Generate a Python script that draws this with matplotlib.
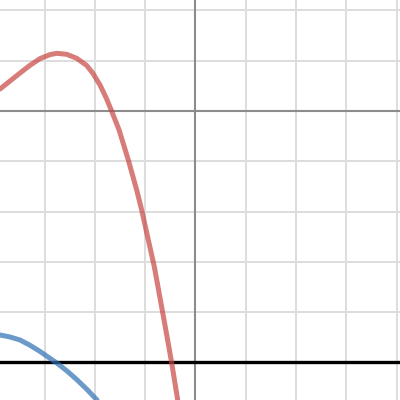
import matplotlib
matplotlib.use("Agg")
import matplotlib.pyplot as plt

# values, in grid units (one grid square = 1)
red_x = [-3.887, -3.688, -3.489, -3.290, -3.091, -2.893, -2.759, -2.561,
         -2.362, -2.163, -2.038, -1.899, -1.779, -1.680, -1.519, -1.336,
         -1.169, -1.070, -0.938, -0.819, -0.652, -0.561, -0.473, -0.354]
red_y = [0.437, 0.596, 0.755, 0.909, 1.042, 1.121, 1.147, 1.127,
         1.048, 0.905, 0.746, 0.517, 0.268, 0.030, -0.378, -0.974,
         -1.571, -1.968, -2.565, -3.095, -4.010, -4.513, -5.010, -5.746]

blue_x = [-3.887, -3.688, -3.489, -3.290, -3.091, -2.932, -2.753, -2.555,
          -2.356, -2.157, -1.958]
blue_y = [-4.453, -4.493, -4.553, -4.658, -4.781, -4.891, -5.014, -5.169,
          -5.344, -5.537, -5.746]

black_y = -5

xlim = (-3.887, 4.066)
ylim = (-5.746, 2.207)
xticks = [-3, -2, -1, 1, 2, 3, 4]
yticks = [2, 1, -1, -2, -3, -4, -5]

fig = plt.figure(figsize=(4, 4), dpi=100)
ax = fig.add_axes([0, 0, 1, 1])
ax.set_xlim(*xlim)
ax.set_ylim(*ylim)

for xv in xticks:
    ax.axvline(xv, color='#dddddd', lw=1.4, zorder=1)
for yv in yticks:
    ax.axhline(yv, color='#dddddd', lw=1.4, zorder=1)
ax.axvline(0, color='#8c8c8c', lw=1.5, zorder=2)
ax.axhline(0, color='#8c8c8c', lw=1.5, zorder=2)

ax.axhline(black_y, color='black', lw=2.4, zorder=3)

ax.plot(red_x, red_y, color='#c74440', alpha=0.7, lw=3.6,
        solid_capstyle='round', solid_joinstyle='round', zorder=4)
ax.plot(blue_x, blue_y, color='#2d70b3', alpha=0.7, lw=3.6,
        solid_capstyle='round', solid_joinstyle='round', zorder=4)

ax.set_xticks([])
ax.set_yticks([])
for s in ax.spines.values():
    s.set_visible(False)

fig.savefig("out.png", dpi=100)
